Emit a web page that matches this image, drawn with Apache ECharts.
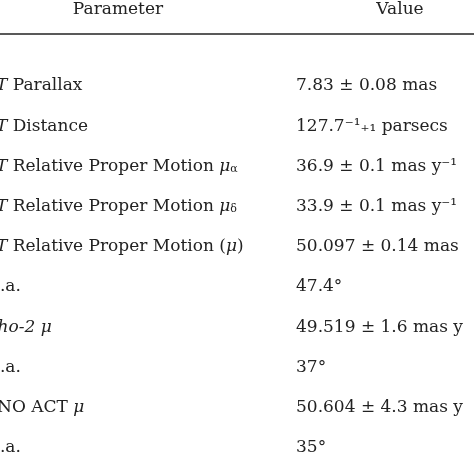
<!DOCTYPE html>
<html><head><meta charset="utf-8">
<script src="https://cdn.jsdelivr.net/npm/echarts@6/dist/echarts.min.js"></script>
<style>html,body{margin:0;background:#fff}#main{width:474px;height:474px}</style>
</head><body><div id="main"></div>
<script>
var headers = ['Parameter', 'Value'];
var params = [
  '{i|T} Parallax',
  '{i|T} Distance',
  '{i|T} Relative Proper Motion {i|μ}{s|α}',
  '{i|T} Relative Proper Motion {i|μ}{s|δ}',
  '{i|T} Relative Proper Motion ({i|μ})',
  'p.a.',
  '{i|cho-2 μ}',
  'p.a.',
  'NO ACT {i|μ}',
  'p.a.'
];
var values = [
  '7.83 ± 0.08 mas',
  '127.7⁻¹₊₁ parsecs',
  '36.9 ± 0.1 mas y⁻¹',
  '33.9 ± 0.1 mas y⁻¹',
  '50.097 ± 0.14 mas',
  '47.4°',
  '49.519 ± 1.6 mas y',
  '37°',
  '50.604 ± 4.3 mas y',
  '35°'
];
var font = '"DejaVu Serif", "Liberation Serif", serif';
var fs = 17;
var rich = {
  i: { fontStyle: 'italic', fontFamily: font, fontSize: fs, fill: '#222' },
  s: { fontFamily: font, fontSize: 11, fill: '#222', verticalAlign: 'bottom' }
};
var elements = [
  { type: 'text', x: 118, y: 10, style: { text: headers[0], font: fs + 'px ' + font, fill: '#222', align: 'center', verticalAlign: 'middle' } },
  { type: 'text', x: 400, y: 10, style: { text: headers[1], font: fs + 'px ' + font, fill: '#222', align: 'center', verticalAlign: 'middle' } },
  { type: 'line', shape: { x1: 0, y1: 34, x2: 474, y2: 34 }, style: { stroke: '#222', lineWidth: 1.6 } }
];
params.forEach(function (p, k) {
  var y = 86 + k * 40.2;
  var x0 = (p.indexOf('{i|T}') === 0) ? -4 : (p === 'p.a.' ? -11 : (p.indexOf('cho') >= 0 ? -12 : -3));
  elements.push({ type: 'text', x: x0, y: y, style: { text: p, rich: rich, font: fs + 'px ' + font, fill: '#222', verticalAlign: 'middle' } });
  elements.push({ type: 'text', x: 296, y: y, style: { text: values[k], rich: rich, font: fs + 'px ' + font, fill: '#222', verticalAlign: 'middle' } });
});
var myChart = echarts.init(document.getElementById('main'));
myChart.setOption({ backgroundColor: '#fff', graphic: { elements: elements } });
</script></body></html>
